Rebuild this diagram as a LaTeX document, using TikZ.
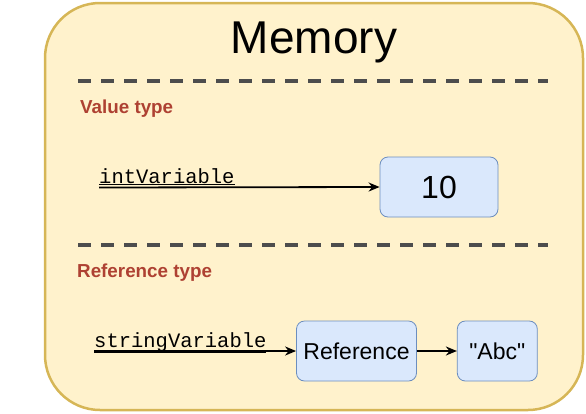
\documentclass[tikz,border=0pt]{standalone}
\usepackage{fontspec}
\setmainfont{Liberation Sans}[Ligatures=TeXOff]
\setmonofont{Liberation Mono}
\usetikzlibrary{positioning,arrows.meta}
\definecolor{memfill}{HTML}{FFF2CC}
\definecolor{memdraw}{HTML}{D6B656}
\definecolor{cellfill}{HTML}{DAE8FC}
\definecolor{celldraw}{HTML}{6C8EBF}
\definecolor{sepgray}{HTML}{4D4D4D}
\definecolor{kindred}{HTML}{AE4132}
\tikzset{
  sepline/.style={line width=4pt, sepgray, dash pattern=on 13pt off 10pt},
  cell/.style={draw=celldraw, fill=cellfill, line width=0.8pt, rounded corners=8pt,
    minimum height=60pt, inner sep=0pt},
  kind/.style={anchor=base west, inner sep=0pt, text=kindred, font=\bfseries\fontsize{18.8}{21}\selectfont},
  varname/.style={anchor=base west, inner sep=0pt, font=\ttfamily\fontsize{20.5}{22}\selectfont},
  ptr/.style={line width=1.8pt, -{Stealth[length=11pt,width=9pt]}}
}
\begin{document}
\begin{tikzpicture}[x=1pt,y=-1pt]
                  \useasboundingbox (0,0) rectangle (586,413);
                  \draw[line width=2.5pt, draw=memdraw, fill=memfill, rounded corners=55pt] (45,3) rectangle (583,410);
                  \node[anchor=base, inner sep=0pt, font=\fontsize{46}{50}\selectfont] (memory) at (314,53) {Memory};
                  \draw[sepline] (78,81) -- (548,81);
                  \draw[sepline] (78,245) -- (548,245);
                  \node[kind] (valuekind) at (80,113) {Value type};
                  \node[kind] (refkind) at (77,277) {Reference type};
                  % value type
                  \node[cell, minimum width=118pt, font=\fontsize{32}{36}\selectfont] (ten) at (439,187) {10};
                  \node[varname] (intvar) at (99,183) {\underline{intVariable}};
                  \coordinate (intstart) at (99,187.5);
                  \draw[ptr] (intstart) -- (ten.west);
                  % reference type
                  \node[cell, minimum width=120pt, font=\fontsize{23}{26}\selectfont] (ref) at (356.5,351) {Reference};
                  \node[cell, minimum width=80pt, font=\fontsize{23}{26}\selectfont, right=40pt of ref] (abc) {"Abc"};
                  \node[varname] (strvar) at (94,347) {\underline{stringVariable}};
                  \coordinate (strstart) at (94,351);
                  \draw[ptr] (strstart) -- (ref.west);
                  \draw[ptr] (ref) -- (abc);
                \end{tikzpicture}
\end{document}
